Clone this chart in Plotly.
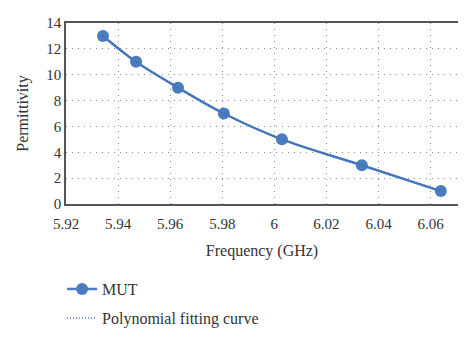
import plotly.graph_objects as go

freq = [5.9342, 5.9469, 5.9630, 5.9806, 6.0029, 6.0336, 6.0639]
perm = [13, 11, 9, 7, 5, 3, 1]
x_ticks = [5.92, 5.94, 5.96, 5.98, 6.0, 6.02, 6.04, 6.06]
x_tick_labels = ["5.92", "5.94", "5.96", "5.98", "6", "6.02", "6.04", "6.06"]
y_ticks = [0, 2, 4, 6, 8, 10, 12, 14]

blue = "#4a7cc0"
font = "Liberation Serif"

fig = go.Figure()
fig.add_trace(go.Scatter(
    x=freq, y=perm, mode="lines+markers", name="MUT",
    line=dict(color=blue, width=2.5, shape="spline"),
    marker=dict(size=12, color=blue),
    legend="legend",
))
fig.add_trace(go.Scatter(
    x=freq, y=perm, mode="lines", name="Polynomial fitting curve",
    line=dict(color="#3a64a8", width=1.5, dash="1px,2px", shape="spline"),
    legend="legend2",
))

axis_common = dict(
    showgrid=True, gridcolor="#8c8c8c", griddash="1px,5px", gridwidth=1,
    zeroline=False, tickfont=dict(family=font, size=15, color="#333"),
    title_font=dict(family=font, size=16, color="#333"),
)
fig.update_xaxes(
    range=[5.92, 6.0705], tickvals=x_ticks, ticktext=x_tick_labels,
    ticks="outside", ticklen=5, tickcolor="rgba(0,0,0,0)",
    title_text="Frequency (GHz)", title_standoff=14,
    showline=True, linecolor="#555", linewidth=1.5, mirror=True,
    **axis_common,
)
fig.update_yaxes(
    range=[0, 14], tickvals=y_ticks, ticks="",
    title_text="Permittivity", title_standoff=14,
    showline=True, linecolor="#555", linewidth=1.5,
    **axis_common,
)
legend_common = dict(
    orientation="v", xanchor="left", yanchor="middle", x=-0.01,
    font=dict(family=font, size=16, color="#333"), bgcolor="rgba(0,0,0,0)",
)
fig.update_layout(
    width=474, height=347,
    margin=dict(l=66, r=16, t=23, b=140),
    paper_bgcolor="white", plot_bgcolor="white",
    showlegend=True,
    legend=dict(y=-0.47, **legend_common),
    legend2=dict(y=-0.63, **legend_common),
)
fig.write_html("out.html")
